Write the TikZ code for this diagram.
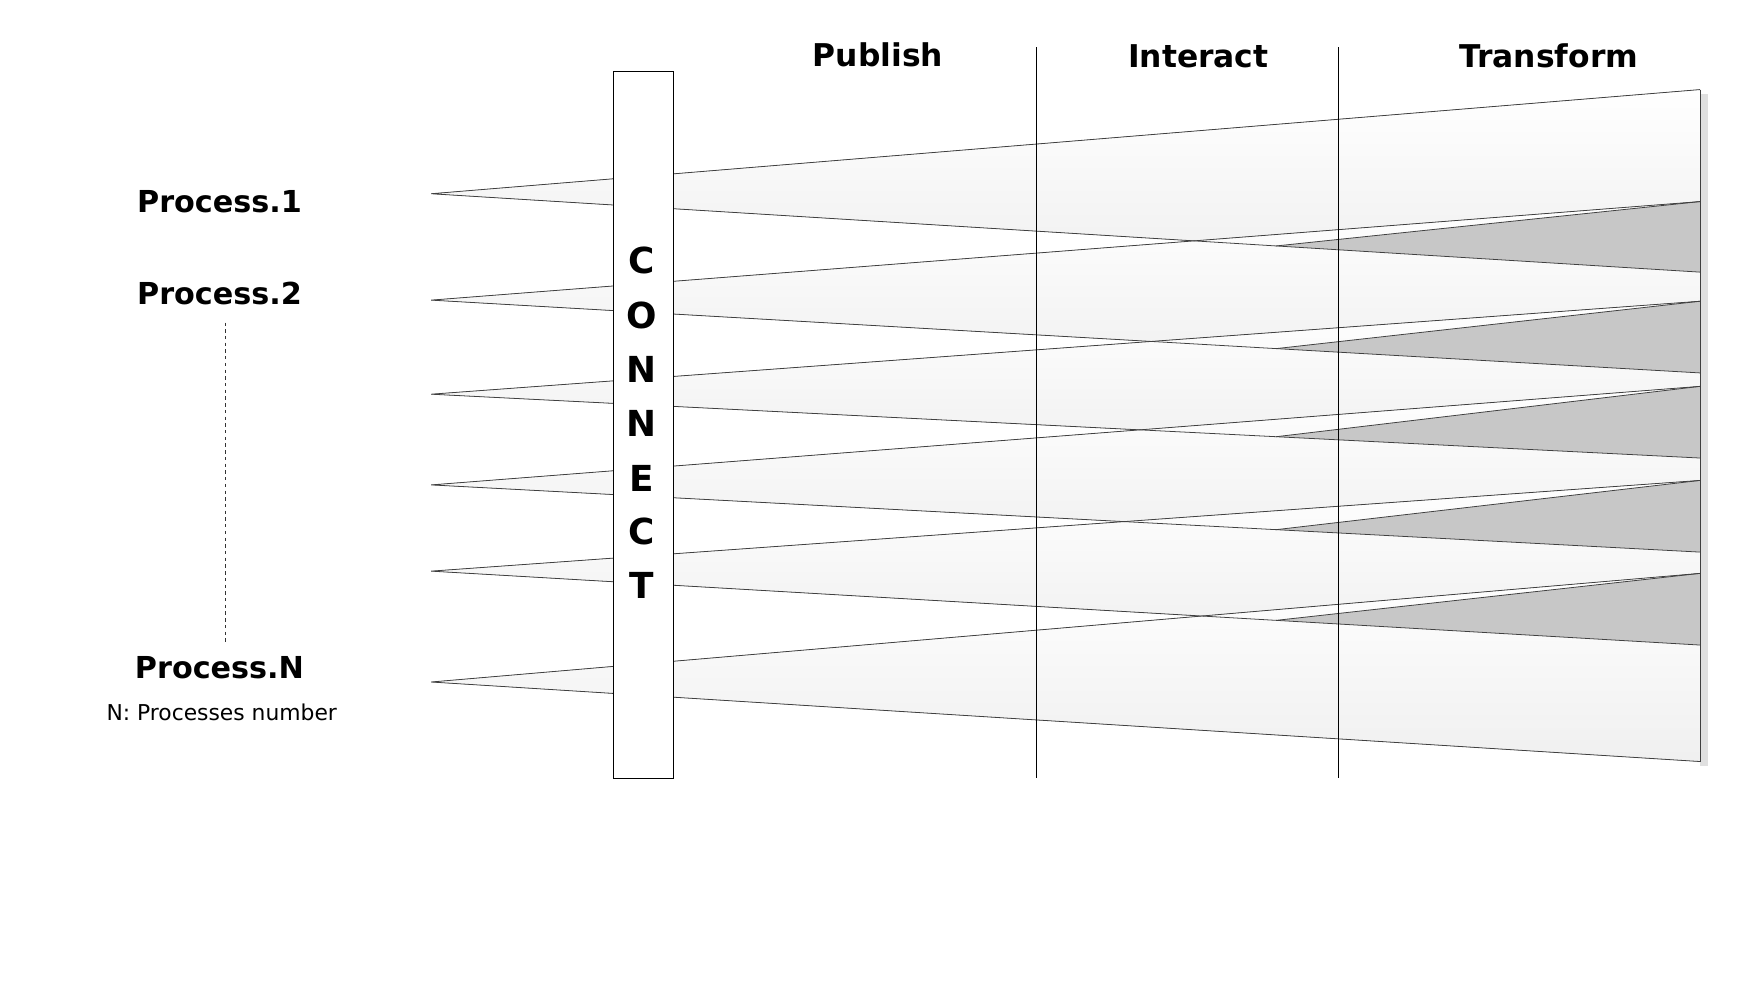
\documentclass[tikz,border=0pt]{standalone}
\usepackage{fontspec}
\usetikzlibrary{calc}
\setmainfont{DejaVu Sans}
\begin{document}
\begin{tikzpicture}[x=1pt,y=-1pt,
  edge/.style={draw=black!75,line width=0.7pt},
  hdr/.style={font=\bfseries\fontsize{28}{30}\selectfont,inner sep=0},
  proc/.style={font=\bfseries\fontsize{27}{30}\selectfont,inner sep=0},
  letter/.style={font=\bfseries\fontsize{32}{36}\selectfont,inner sep=0}]
\useasboundingbox (0,0) rectangle (1560,891);
% shadow on right
\fill[black!12] (1518,84) rectangle (1525,684);
% wedges
\foreach \a/\t/\b in {173/80/243,268/180/333,352/269/409,433/345/493,510/429/576,609/512/680}{
  \fill[top color=white,bottom color=black!6] (385,\a) -- (1518,\t) -- (1518,\b) -- cycle;
}
% gray overlaps (explicit triangles, apex on the upper wedge's lower edge)
\foreach \a/\b/\tt in {173/243/180,268/333/269,352/409/345,433/493/429,510/576/512}{
  \fill[black!22] ($(385,\a)!0.666!(1518,\b)$) -- (1518,\tt) -- (1518,\b) -- cycle;
  \draw[edge] ($(385,\a)!0.666!(1518,\b)$) -- (1518,\tt);
}
\foreach \a/\t/\b in {173/80/243,268/180/333,352/269/409,433/345/493,510/429/576,609/512/680}{
  \draw[edge] (1518,\t) -- (385,\a) -- (1518,\b);
}
\draw[edge] (1518,80) -- (1518,680);
% phase separators
\coordinate (s1t) at (925,42); \coordinate (s1b) at (925,695);
\coordinate (s2t) at (1195,42); \coordinate (s2b) at (1195,695);
\draw[black,line width=0.7pt] (s1t) -- (s1b);
\draw[black,line width=0.7pt] (s2t) -- (s2b);
% connect box
\node[draw=black,line width=0.8pt,fill=white,minimum width=54pt,minimum height=632pt,inner sep=0,anchor=north west] (box) at (547,63) {};
\foreach \l/\y [count=\i] in {C/233,O/282,N/330,N/378,E/427,C/475,T/523}{
  \node[letter] (L\i) at (573,\y) {\l};
}
% headers
\node[hdr] (pub) at (784,49) {Publish};
\node[hdr] (int) at (1070,50) {Interact};
\node[hdr] (tra) at (1383,50) {Transform};
% processes
\node[proc] (p1) at (196,180) {Process.1};
\node[proc] (p2) at (196,262) {Process.2};
\node[proc] (pn) at (196,596) {Process.N};
\node[inner sep=0,font=\fontsize{19.5}{20}\selectfont] (nn) at (198,636) {N: Processes number};
\coordinate (d1) at (201,288); \coordinate (d2) at (201,573);
\draw[dashed,black!80,line width=0.6pt] (d1) -- (d2);
\end{tikzpicture}
\end{document}
